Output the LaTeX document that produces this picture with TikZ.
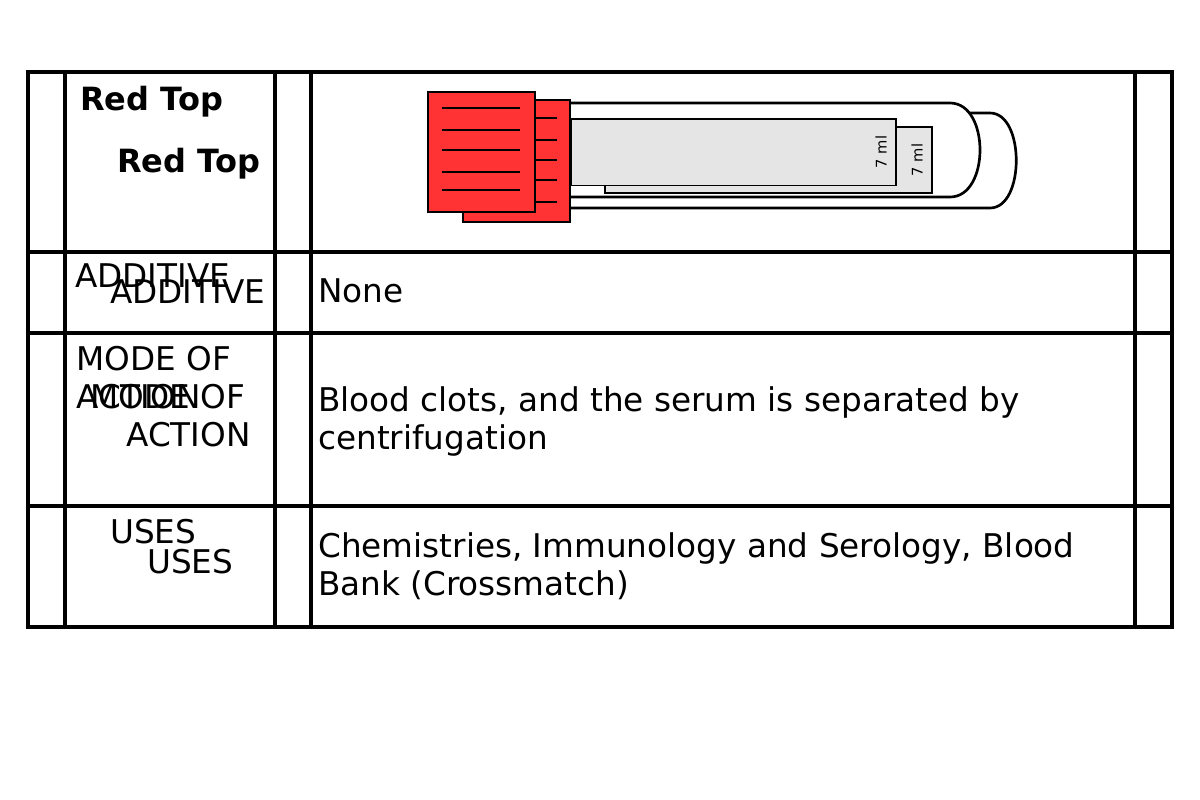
\documentclass[tikz,border=0pt]{standalone}
\usepackage{fontspec}
\setmainfont{DejaVu Sans}
\definecolor{capred}{HTML}{FF3333}
\begin{document}
\begin{tikzpicture}[x=0.75pt,y=-0.75pt,
  grid/.style={line width=3pt},
  lbl/.style={anchor=north west,inner sep=0pt,font=\fontsize{24.5}{28.5}\selectfont,align=left},
  hd/.style={anchor=north west,inner sep=0pt,font=\fontsize{24}{28.5}\selectfont\bfseries},
  redcap/.style={fill=capred,draw=black,line width=2pt},
  lab/.style={fill=gray!20,draw=black,line width=1.2pt},
  tube/.style={draw=black,line width=2pt},
  ml/.style={font=\fontsize{11}{11}\selectfont,rotate=90,inner sep=0pt}]
\useasboundingbox (0,0) rectangle (1200,800);
% grid
\draw[grid] (28,72) rectangle (1172,627);
\foreach \x in {65,275,311,1135} \draw[grid] (\x,72) -- (\x,627);
\foreach \y in {252,333,506} \draw[grid] (28,\y) -- (1172,\y);
% tube 2 (back)
\draw[tube,fill=white] (540,113) -- (990,113) .. controls (1025,113) and (1025,208) .. (990,208) -- (540,208);
\node[lab,minimum width=245,minimum height=50,inner sep=0pt,anchor=north west] (l2) at (605,127) {};
% tube 1 (front)
\draw[tube,fill=white] (540,103) -- (950,103) .. controls (990,103) and (990,197) .. (950,197) -- (540,197);
\draw[lab] (605,186) -- (605,193) -- (932,193) -- (932,127) -- (895,127);
\node[ml] at (917,160) {7 ml};
\node[lab,minimum width=244,minimum height=50,inner sep=0pt,anchor=north west] (l1) at (570,118) {};
\node[ml] at (881,152) {7 ml};
% caps
\draw[redcap] (463,100) rectangle (570,222);
\foreach \y in {118,140,160,180,202} \draw[line width=1.5pt] (535,\y) -- (557,\y);
\draw[redcap] (428,92) rectangle (535,212);
\foreach \y in {108,130,150,172,190} \draw[line width=1.5pt] (442,\y) -- (520,\y);
% texts
\node[hd] (t1) at (80,86) {Red Top};
\node[hd] (t2) at (117,148) {Red Top};
\node[lbl] (a1) at (75,263) {ADDITIVE};
\node[lbl] (a2) at (110,279) {ADDITIVE};
\node[lbl] (m1) at (76,346) {MODE OF\\ACTION};
\node[lbl] (m2) at (90,384) {MODE OF};
\node[lbl] (m3) at (126,422) {ACTION};
\node[lbl] (u1) at (110,519) {USES};
\node[lbl] (u2) at (147,549) {USES};
\node[lbl] (v1) at (318,278) {None};
\node[lbl] (v2) at (318,386) {Blood clots, and the serum is separated by\\centrifugation};
\node[lbl] (v3) at (318,532) {Chemistries, Immunology and Serology, Blood\\Bank (Crossmatch)};
\end{tikzpicture}
\end{document}
